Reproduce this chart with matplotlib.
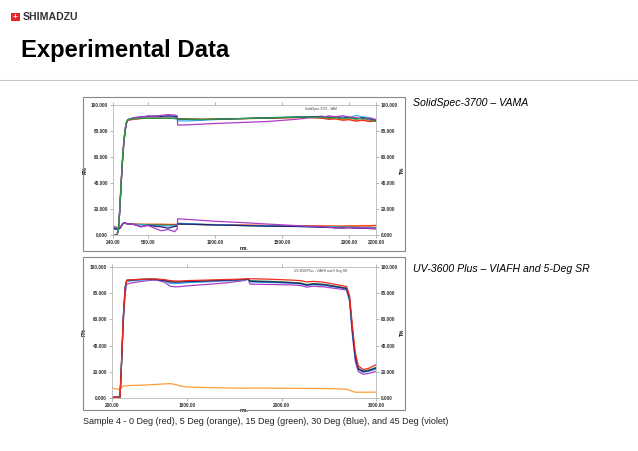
import matplotlib.pyplot as plt
from matplotlib.patches import Rectangle

W, H = 638, 451

# ---- top chart: SolidSpec-3700 (nm, %) ----
wl_top = [240, 255, 270, 280, 290, 300, 310, 320, 330, 340, 350, 400, 450, 500, 550, 600,
          650, 700, 718, 722, 800, 900, 1000, 1200, 1400, 1600, 1700, 1800, 1850, 1900,
          1950, 2000, 2050, 2100, 2150, 2200]
top_T = {
    "green": [0, 0, 0.5, 5, 20, 40, 58, 72, 82, 87, 89, 89.5, 90, 90, 90, 90, 90, 89.8, 89.6,
              89.5, 89.3, 89.2, 89.3, 89.8, 90.3, 90.8, 91, 90.6, 90.2, 90.5, 89.8, 90.2,
              89.5, 89.8, 88.8, 87.5],
    "orange": [0, 0, 0.4, 4.5, 19, 39, 57, 71, 81, 86.5, 88.5, 89.5, 90, 90.3, 90.5, 90.2,
               90.3, 90, 89.8, 89.7, 89.5, 89.3, 89.4, 89.8, 90.2, 90.6, 90.8, 90.3, 89.5,
               90, 89, 89.3, 88.2, 88.8, 88, 88.5],
    "red": [0, 0, 0.4, 4.5, 19, 39, 57, 71, 81, 86.5, 88.5, 89.3, 89.8, 90.1, 90.3, 90, 90.2,
            89.9, 89.7, 89.6, 89.4, 89.2, 89.3, 89.7, 90.1, 90.5, 90.7, 90, 89.2, 89.6, 88.5,
            88.9, 87.8, 88.5, 87.5, 87.8],
    "cyan": [0, 0, 0.3, 4, 18, 38, 56, 70, 80, 86, 89, 90.5, 90.8, 91, 91.2, 91, 91.3, 90.8,
             90.5, 88, 88, 88.5, 89, 89.8, 90.5, 91.2, 91.3, 91, 91.5, 90.8, 91.2, 90.5,
             92.2, 91, 90.5, 89],
    "navy": [0, 0, 0.3, 4, 18, 38, 56, 70, 80, 86, 89, 90.5, 91, 91.5, 91.8, 91.5, 92, 91.5,
             91.2, 89.5, 89.2, 89, 89.3, 89.8, 90.3, 90.8, 91, 91.5, 90.5, 91.2, 90, 90.8,
             89.5, 90.5, 89.5, 88.5],
    "violet": [0, 0, 0.3, 4, 18, 38, 56, 70, 80, 86, 88.5, 90.5, 91, 91.8, 91.5, 92.3, 92.8,
               92.5, 92, 84.8, 85, 85.5, 86, 86.8, 87.6, 89.2, 90.3, 91, 91.8, 91.2, 92, 91,
               90.5, 89.5, 90.2, 89],
}
top_R = {
    "green": [6, 5.5, 5.2, 5, 5.5, 7, 8.8, 9.5, 9.3, 9, 8.8, 8.5, 8.3, 8.2, 8, 7.8, 7.8, 7.7,
              7.7, 8.8, 8.5, 8.2, 8, 7.5, 7.2, 7, 6.8, 6.7, 6.5, 6.5, 6.3, 6.3, 6.2, 6, 6, 5.8],
    "red": [6, 5.5, 5.3, 5.2, 5.6, 7, 8.5, 9.2, 9.2, 9, 8.8, 8.5, 8.4, 8.4, 8.4, 8.4, 8.3,
            8.3, 8.3, 8.5, 8.4, 8.3, 8.1, 7.8, 7.5, 7.3, 7.2, 7.1, 7.0, 7.0, 6.9, 7.1, 7.0,
            7.3, 7.1, 7.4],
    "orange": [6, 5.5, 5.3, 5.2, 5.6, 7, 8.5, 9.2, 9.2, 9, 8.8, 8.6, 8.5, 8.5, 8.5, 8.5, 8.4,
               8.4, 8.4, 8.6, 8.5, 8.4, 8.2, 7.9, 7.6, 7.4, 7.3, 7.2, 7.3, 7.1, 7.2, 7.4,
               7.2, 7.6, 7.5, 7.8],
    "cyan": [5, 4.8, 4.8, 4.9, 5.3, 6.5, 8.5, 9.5, 9.5, 9, 8.7, 8.3, 8, 7.8, 7.5, 7.2, 7.3,
             7.2, 7.2, 9.3, 9, 8.5, 8.2, 7.6, 7.2, 6.9, 6.7, 6.5, 6.3, 6.4, 6, 6.2, 5.9, 5.7,
             5.8, 5.5],
    "navy": [5.2, 4.9, 4.8, 4.9, 5.3, 6.5, 8.5, 9.6, 9.5, 9.2, 8.8, 8.2, 6.5, 7.8, 7, 6.5,
             5.5, 6.8, 7, 8.8, 8.6, 8.3, 8, 7.5, 7, 6.8, 6.5, 6.2, 6, 5.8, 5.5, 5.8, 5.3,
             5.5, 5.2, 5],
    "violet": [7, 6.5, 6, 5.8, 6, 7, 8.5, 9.5, 9.3, 9, 8.8, 8.3, 6.7, 7.5, 5.5, 3.5, 4.5,
               2.8, 5, 12.7, 12.2, 11.5, 10.8, 9.8, 8.6, 7.5, 7, 6.8, 6.2, 5.5, 5.8, 6, 5.5,
               5.8, 5.5, 5.2],
}

# ---- bottom chart: UV-3600 Plus (nm, %) ----
wl_bot = [200, 250, 285, 300, 320, 340, 356, 400, 500, 600, 674, 760, 815, 870, 921, 1000,
          1200, 1400, 1600, 1645, 1663, 1700, 1900, 2100, 2200, 2265, 2333, 2450, 2600, 2688,
          2720, 2750, 2780, 2812, 2865, 2920, 3000]
bot = {
    "orange": [7.2, 6.8, 6, 7.5, 9, 9.1, 9.2, 9.4, 9.6, 9.9, 10.2, 10.6, 10.8, 10.2, 9, 8.2,
               7.8, 7.5, 7.3, 7.3, 7.4, 7.4, 7.3, 7.2, 7.2, 7.1, 7.1, 7, 6.8, 6.5, 5.8, 4.8,
               4.2, 4.2, 4.2, 4.2, 4.3],
    "violet": [0.3, 0.3, 0.4, 24, 58, 80, 87, 88, 89, 90, 90.2, 88.5, 85.5, 85, 85.2, 85.8,
               86.8, 88, 89.8, 90.8, 87.2, 87, 86.8, 86.5, 86, 84.8, 85.5, 85, 83.5, 82.6,
               74, 48, 28, 20, 18, 18.6, 20.2],
    "cyan": [0.3, 0.3, 0.4, 25, 60, 82, 89, 89.6, 90.2, 90.6, 90.6, 89.5, 87.7, 87.5, 87.7,
             88.2, 88.8, 89.5, 90.4, 90.8, 88.8, 88.6, 88.3, 87.8, 87.3, 86, 86.7, 86.2,
             84.5, 83.3, 75, 50, 30, 21.5, 19.5, 20.2, 22],
    "green": [0.3, 0.3, 0.5, 25, 62, 85, 90, 90.3, 90.8, 91, 90.8, 90, 89.2, 89, 89, 89.2,
              89.7, 90.2, 90.8, 91, 89.8, 89.6, 89.2, 88.5, 88, 86.8, 87.5, 87, 85.2, 84,
              76, 52, 32, 22.5, 20.5, 21.2, 23.3],
    "navy": [0.3, 0.3, 0.5, 25, 62, 85, 90, 90.2, 90.6, 90.8, 90.6, 89.7, 88.8, 88.6, 88.7,
             89, 89.5, 90, 90.6, 90.9, 89.4, 89.2, 88.8, 88.1, 87.6, 86.4, 87.1, 86.6, 84.8,
             83.7, 75.5, 51, 31, 22, 20, 20.7, 22.6],
    "red": [0.3, 0.3, 0.5, 25, 62, 84, 90, 90.5, 90.8, 91, 91, 90.5, 89.8, 89.5, 89.5, 89.8,
            90.2, 90.6, 91, 91.2, 91.2, 91.2, 90.8, 90.2, 89.8, 88.8, 89.2, 88.5, 86.5, 85.2,
            78, 55, 35, 24.5, 21.5, 22.5, 25.2],
}

colors = {"red": "#f52a1e", "orange": "#ff9d3a", "green": "#2f9a3e", "navy": "#23237e",
          "cyan": "#3aaee6", "violet": "#b03cc4"}

top_xticks = [240, 500, 1000, 1500, 2000, 2200]
bot_xticks = [200, 1000, 2000, 3000]
yticks = [0, 20, 40, 60, 80, 100]

fig = plt.figure(figsize=(W / 100, H / 100), dpi=100)
plt.rcParams["font.family"] = ["Liberation Sans", "DejaVu Sans"]


def rect(x0, y0, x1, y1):
    return [x0 / W, 1 - y1 / H, (x1 - x0) / W, (y1 - y0) / H]


def style_axes(ax, xlim, xticks, note):
    ax.set_xlim(*xlim)
    ax.set_ylim(0, 100)
    ax.set_xticks(xticks)
    ax.set_xticklabels([f"{t:.2f}" for t in xticks])
    ax.set_yticks(yticks)
    ax.set_yticklabels([f"{t:.3f}" for t in yticks])
    for s in ax.spines.values():
        s.set_color("#b8b8b8")
        s.set_linewidth(0.6)
    ax.tick_params(labelsize=3.4, length=2, width=0.5, color="#999999", pad=1.5,
                   labelcolor="#333333", top=True, direction="out")
    for lab in ax.get_xticklabels() + ax.get_yticklabels():
        lab.set_fontweight("bold")
    ax.set_ylabel("R%", fontsize=3.6, fontweight="bold", labelpad=2)
    ax.set_xlabel("nm.", fontsize=3.4, fontweight="bold", labelpad=0.5)
    ax2 = ax.twinx()
    ax2.set_ylim(0, 100)
    ax2.set_yticks(yticks)
    ax2.set_yticklabels([f"{t:.3f}" for t in yticks], fontweight="bold")
    ax2.tick_params(labelsize=3.4, length=2, width=0.5, color="#999999", pad=1.5,
                    labelcolor="#333333")
    for s in ax2.spines.values():
        s.set_visible(False)
    ax2.set_ylabel("T%", fontsize=3.6, fontweight="bold", labelpad=1.5)
    ax.text(0.79, 0.972, note, transform=ax.transAxes, fontsize=2.3, color="#444444",
            ha="center", va="center")


# frames
for y0, y1 in [(97, 251), (257, 410)]:
    fig.patches.append(Rectangle((83 / W, 1 - y1 / H), (405 - 83) / W, (y1 - y0) / H,
                                 transform=fig.transFigure, fill=False,
                                 edgecolor="#8a8a8a", linewidth=0.8))

ax1 = fig.add_axes(rect(113, 105.3, 376, 235.3))
for k in ["orange", "red", "green", "cyan", "navy", "violet"]:
    ax1.plot(wl_top, top_R[k], color=colors[k], lw=0.9)
for k in ["orange", "red", "cyan", "navy", "violet", "green"]:
    ax1.plot(wl_top, top_T[k], color=colors[k], lw=0.9)
style_axes(ax1, (240, 2200), top_xticks, "SolidSpec 3700 - VAM")

ax2 = fig.add_axes(rect(112, 267.3, 376, 397.7))
for k in ["orange", "violet", "cyan", "green", "navy", "red"]:
    ax2.plot(wl_bot, bot[k], color=colors[k], lw=0.9)
style_axes(ax2, (200, 3000), bot_xticks, "UV-3600 Plus - VIAFH and 5 Deg SR")

# slide decorations
fig.patches.append(Rectangle((11 / W, 1 - 21 / H), 9 / W, 8 / H, transform=fig.transFigure,
                             facecolor="#e8262a", edgecolor="none"))
fig.text(15.5 / W, 1 - 17 / H, "+", color="white", fontsize=6, fontweight="bold",
         ha="center", va="center")
fig.text(23 / W, 1 - 17 / H, "SHIMADZU", fontsize=7.6, fontweight="bold", color="#333333",
         va="center")
fig.text(21 / W, 1 - 50 / H, "Experimental Data", fontsize=17.2, fontweight="bold",
         color="black", va="center")
fig.add_artist(plt.Line2D([0, 1], [1 - 79.5 / H] * 2, color="#c8c8c8", lw=0.8))
fig.text(413 / W, 1 - 103.5 / H, "SolidSpec-3700 \u2013 VAMA", fontsize=7.6, style="italic",
         va="center")
fig.text(413 / W, 1 - 268.5 / H, "UV-3600 Plus \u2013 VIAFH and 5-Deg SR", fontsize=7.6,
         style="italic", va="center")
fig.text(83 / W, 1 - 421 / H,
         "Sample 4 - 0 Deg (red), 5 Deg (orange), 15 Deg (green), 30 Deg (Blue), and 45 Deg (violet)",
         fontsize=6.5, va="center", color="#222222")

fig.savefig("out.png", dpi=100)
